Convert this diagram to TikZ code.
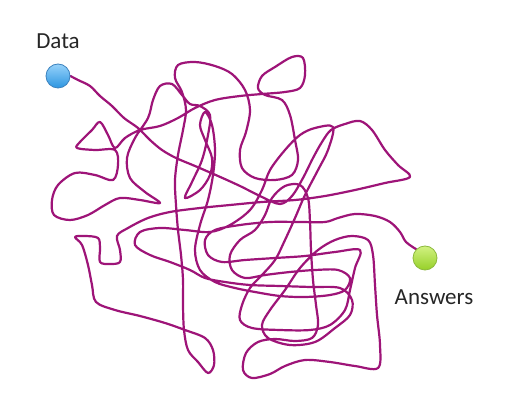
\documentclass[tikz,border=0pt]{standalone}
\usepackage{fontspec}
\setmainfont{Carlito}
\usepackage{tikz}
\usetikzlibrary{positioning,backgrounds}
\definecolor{tangle}{RGB}{158,20,120}
\definecolor{bluetop}{RGB}{150,210,250}
\definecolor{bluebot}{RGB}{45,150,225}
\definecolor{blueline}{RGB}{60,130,190}
\definecolor{greentop}{RGB}{210,242,130}
\definecolor{greenbot}{RGB}{150,208,40}
\definecolor{greenline}{RGB}{140,185,60}

\begin{document}
\begin{tikzpicture}[x=1pt,y=-1pt]
    \tikzset{
        ball/.style={circle, minimum size=24pt, inner sep=0pt, line width=0.8pt},
        lbl/.style={font={\fontsize{23}{27}\selectfont}, text=black!85, inner sep=0pt},
        a/.style={tangle, line width=2.2pt, line cap=round, line join=round},
    }
        \useasboundingbox (0,0) rectangle (519,403);

        \node[ball, top color=bluetop, bottom color=bluebot, draw=blueline] (data) at (58,76) {};
        \node[ball, top color=greentop, bottom color=greenbot, draw=greenline] (answers) at (425,258) {};
        \node[lbl, above=15pt of data] (datalbl) {Data};
        \node[lbl, below=19pt of answers.south, xshift=9pt] (answerslbl) {Answers};

        \begin{pgfonlayer}{background}
        \fill[white] (0,0) rectangle (519,403);
        % one long scribble from data to answers
        \draw [a] plot[smooth, tension=0.55] coordinates {(data.east)
            (78,80) (90,86) (100,96) (112,106) (124,118) (138,128) (150,140) (162,150) (176,158) (195,166) (218,176) (240,186) (262,197) (280,204)
            (292,196) (303,178) (313,158) (322,142) (331,130) (345,124) (360,121) (372,130) (385,150) (398,165) (410,177) (385,183) (355,190) (325,196) (295,200) (262,202) (230,205) (200,208) (170,212) (148,218) (128,228) (117,236)
            (120,250) (120,262) (110,264) (100,262) (100,248) (98,238) (85,236) (75,237) (82,245) (88,265) (92,285) (96,302) (115,310) (140,316) (165,323) (185,330) (205,338) (213,350) (214,365) (208,373) (198,362) (188,350) (184,330) (183,305) (183,280) (181,255)
            (178,230) (176,205) (175,180) (178,155) (183,130) (186,110) (182,92) (175,78) (178,65) (195,62) (215,66) (232,74) (245,90) (250,110) (246,132) (240,150) (242,168) (255,178) (275,180) (292,175) (298,160) (295,140) (290,115) (282,100) (265,95) (258,88) (262,76) (275,67) (292,57) (303,58) (305,75) (300,88) (285,92) (262,94) (240,96) (215,100) (195,108) (178,118)
            (160,126) (140,130) (125,138) (115,148) (108,135) (100,122) (92,130) (80,142) (77,148) (95,150) (115,150) (118,165) (113,180) (95,175) (75,173) (58,185) (52,200) (54,215) (70,220) (88,215) (105,205) (120,198) (140,200) (160,203)
            (145,192) (130,178) (127,158) (135,138) (148,118) (153,100) (160,86) (172,84) (182,95) (190,104) (200,106) (210,115) (208,135) (202,160) (192,182)
            (185,198) (200,190) (210,175) (212,158) (205,140) (200,125) (205,112) (212,125) (215,150) (213,175) (208,200) (200,225) (195,250) (200,270) (215,282) (235,288) (255,292) (280,296) (305,297) (330,295) (345,290) (350,278) (338,270) (315,270) (290,272) (265,275) (245,278) (232,270) (230,255) (240,240) (255,230) (265,215) (272,198) (285,186) (300,185) (308,198) (310,222) (311,250) (313,280) (316,305) (318,325) (312,338) (295,341) (275,339) (258,342) (246,353) (243,370) (252,378) (270,374) (285,366) (305,360) (330,362) (355,366) (378,368) (380,345) (377,315) (375,285) (373,255)
            (368,240) (352,236) (335,240) (318,250) (300,268) (285,290) (270,310) (262,325) (268,338) (290,345) (315,342) (335,328) (350,315) (352,300) (340,288) (310,287) (280,286) (250,285) (225,282) (205,278) (190,270) (170,262) (150,255) (135,245) (140,232) (160,228) (185,230) (210,232)
            (230,225) (250,210) (262,190) (270,170) (285,150) (300,135) (315,128) (333,127) (328,150) (318,170) (305,195) (295,218) (285,240) (275,260) (262,275) (250,288) (242,305) (240,320) (252,328) (280,330) (310,330) (330,325) (345,310) (350,290) (355,268) (360,250)
            (335,252) (305,256) (275,258) (245,260) (222,262) (208,255) (205,240) (215,230) (240,225) (270,222) (300,222) (325,222) (338,218) (355,214) (375,216) (390,222) (400,232) (406,242)
            (answers.north west)};
        \end{pgfonlayer}
    \end{tikzpicture}
\end{document}
